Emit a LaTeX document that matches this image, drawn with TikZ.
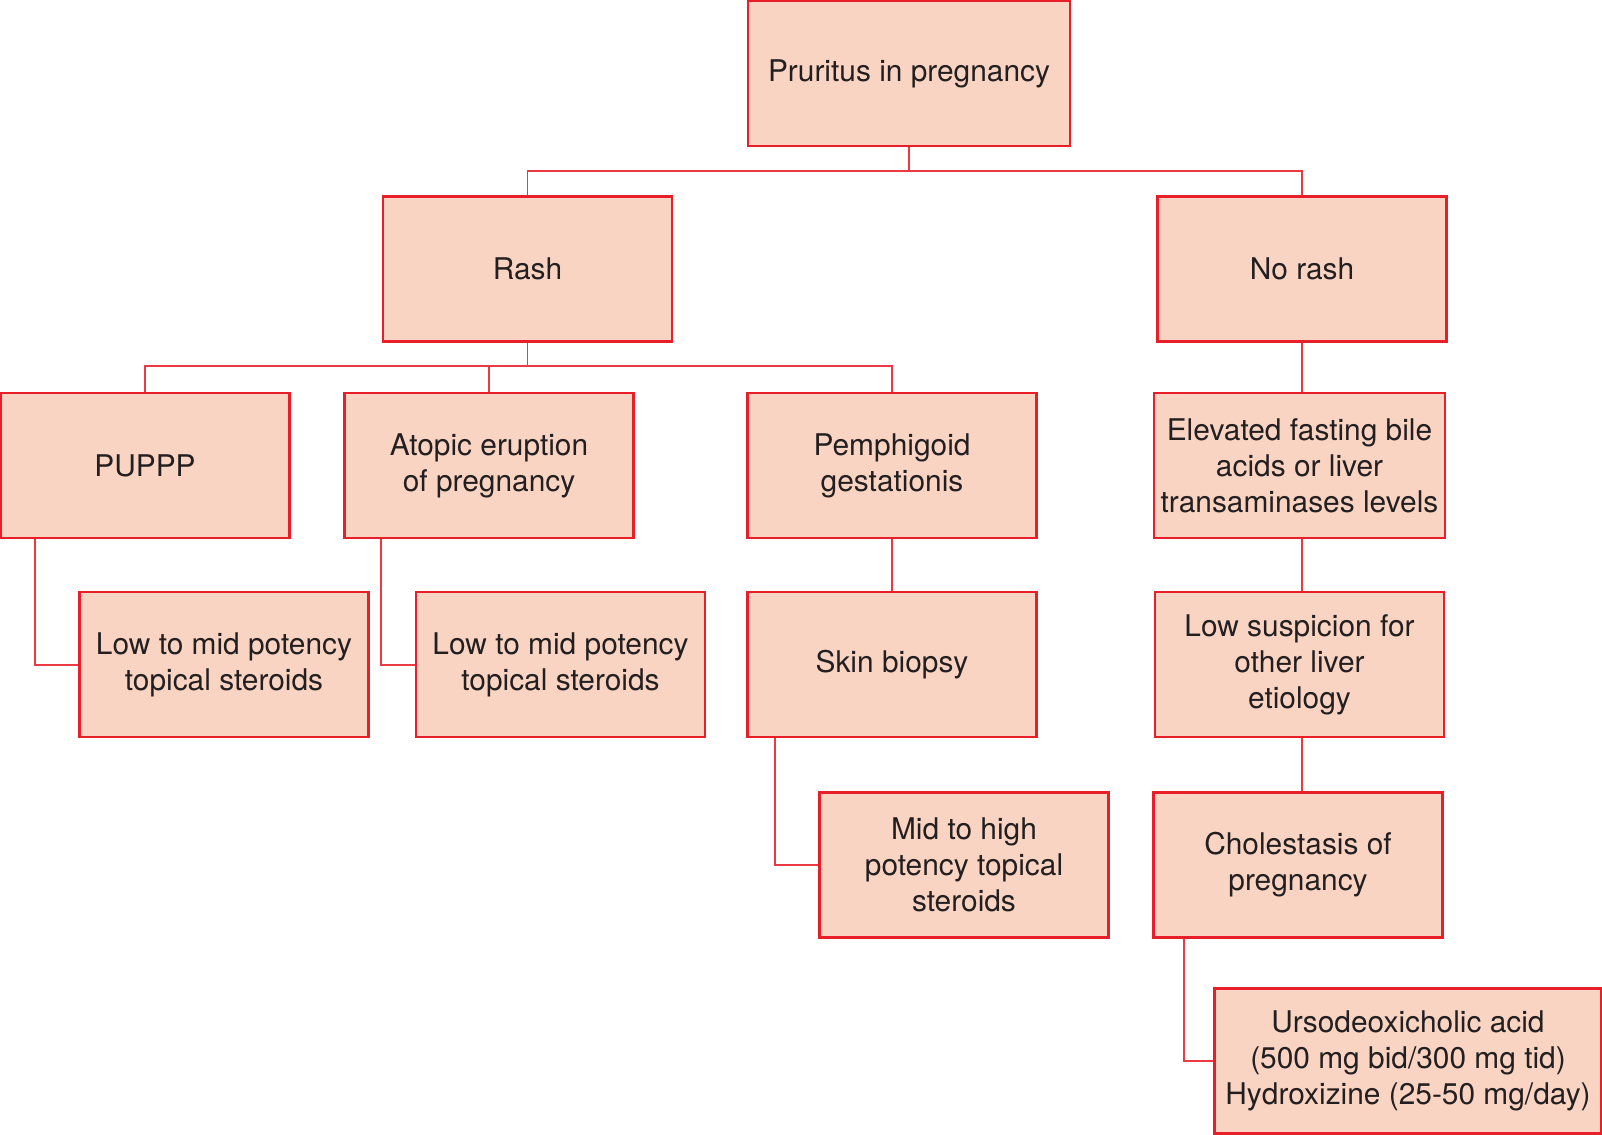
\documentclass[tikz,border=0pt]{standalone}
\usepackage{fontspec}
\setmainfont{TeX Gyre Heros}
\definecolor{boxfill}{RGB}{249,212,195}
\definecolor{boxred}{RGB}{232,30,40}
\definecolor{linkred}{RGB}{236,58,68}
\definecolor{inktext}{RGB}{35,31,32}
\begin{document}
\begin{tikzpicture}[
    font=\fontsize{8.5}{10.2}\selectfont,
    box/.style={draw=boxred,fill=boxfill,line width=0.6pt,text=inktext,
      align=center,minimum width=2.89cm,minimum height=1.45cm,inner sep=2pt},
    link/.style={linkred,line width=0.55pt}]
  \useasboundingbox (0,0) rectangle (16.02,-11.35);

  \node[box,minimum width=3.22cm] (pruritus) at (9.09,-0.735) {Pruritus in pregnancy};

  \node[box] (rash) at (5.275,-2.69) {Rash};
  \node[box] (norash) at (13.02,-2.69) {No rash};

  \node[box] (puppp) at (1.45,-4.655) {PUPPP};
  \node[box] (atopic) at (4.89,-4.655) {Atopic eruption\\of pregnancy};
  \node[box] (pemphigoid) at (8.92,-4.655) {Pemphigoid\\gestationis};
  \node[box] (bile) at (12.995,-4.655) {Elevated fasting bile\\acids or liver\\transaminases levels};

  \node[box] (lowpuppp) at (2.24,-6.646) {Low to mid potency\\topical steroids};
  \node[box] (lowatopic) at (5.605,-6.646) {Low to mid potency\\topical steroids};
  \node[box] (biopsy) at (8.92,-6.646) {Skin biopsy};
  \node[box] (suspicion) at (12.995,-6.646) {Low suspicion for\\other liver\\etiology};

  \node[box] (midhigh) at (9.64,-8.65) {Mid to high\\potency topical\\steroids};
  \node[box] (cholestasis) at (12.98,-8.65) {Cholestasis of\\pregnancy};

  \node[box,minimum width=3.87cm] (urso) at (14.08,-10.61)
    {Ursodeoxicholic acid\\(500 mg bid/300 mg tid)\\Hydroxizine (25-50 mg/day)};

  % tree connectors
  \coordinate (splittop) at (9.09,-1.707);
  \coordinate (splitrash) at (5.275,-3.66);
  \draw[link] (pruritus) -- (splittop);
  \draw[link] (rash.north) |- (splittop) -| (norash.north);
  \draw[link] (rash) -- (splitrash);
  \draw[link] (puppp.north) |- (splitrash) -| (pemphigoid.north);
  \draw[link] (atopic.north) -- (atopic.north |- splitrash);

  \draw[link] (norash.south) -- (norash.south |- bile.north);
  \draw[link] (norash.south |- bile.south) -- (norash.south |- suspicion.north);
  \draw[link] (norash.south |- suspicion.south) -- (norash.south |- cholestasis.north);
  \draw[link] (pemphigoid) -- (biopsy);

  % side connectors
  \draw[link] (lowpuppp.west) -| ([xshift=0.36cm]puppp.south west);
  \draw[link] (lowatopic.west) -| ([xshift=0.38cm]atopic.south west);
  \draw[link] (midhigh.west) -| ([xshift=0.29cm]biopsy.south west);
  \draw[link] (urso.west) -| ([xshift=0.32cm]cholestasis.south west);

\end{tikzpicture}
\end{document}
